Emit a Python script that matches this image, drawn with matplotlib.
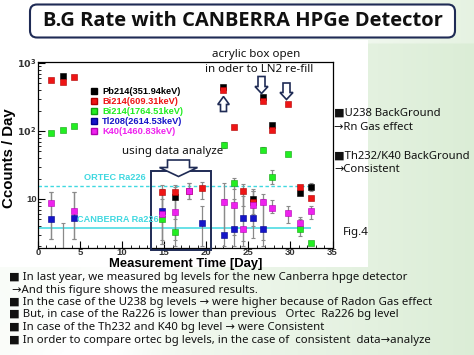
import matplotlib
matplotlib.use('Agg')
import matplotlib.pyplot as plt
import numpy as np
from matplotlib.patches import FancyBboxPatch, Rectangle, Polygon
from matplotlib.lines import Line2D
from matplotlib.ticker import FixedLocator, FuncFormatter, MultipleLocator, LogLocator, NullFormatter

# ---------------- data ----------------
pb214_day = [2.95, 22.0, 26.7, 27.84, 16.28, 25.6, 31.1, 32.45]
pb214_val = [640, 448, 313, 122, 10.8, 10.0, 12.1, 14.9]
pb214_lo = [640, 448, 313, 122, 6.0, 5.0, 12.1, 13.0]
pb214_hi = [640, 448, 313, 122, 15.0, 14.0, 12.1, 17.0]

bi609_day = [1.5, 2.95, 4.27, 22.0, 23.26, 26.7, 27.84, 29.7, 14.78, 16.28, 17.9, 19.5, 24.4, 25.6, 31.1, 32.45]
bi609_val = [568, 530, 622, 401, 114, 279, 104, 250, 12.6, 12.6, 13.3, 14.7, 13.2, 9.1, 14.9, 10.4]
bi609_lo = [568, 530, 622, 401, 114, 279, 104, 250, 5.0, 5.0, 10.0, 10.0, 8.0, 6.0, 14.9, 10.4]
bi609_hi = [568, 530, 622, 401, 114, 279, 104, 250, 16.0, 16.0, 17.0, 18.0, 16.5, 13.0, 14.9, 10.4]

bi1764_day = [1.5, 2.95, 4.27, 22.07, 26.7, 29.7, 23.26, 27.84, 14.78, 16.28, 31.1, 32.45]
bi1764_val = [92.5, 102, 118, 63, 53, 46, 17, 21.3, 5.0, 3.27, 3.66, 2.24]
bi1764_lo = [92.5, 102, 118, 57, 49, 46, 14.0, 16.5, 2.5, 2.0, 2.9, 2.24]
bi1764_hi = [92.5, 102, 118, 70, 58, 46, 20.5, 27.0, 10.0, 7.0, 5.0, 2.24]

tl208_day = [1.5, 3.0, 4.27, 14.78, 19.5, 22.07, 23.26, 24.4, 25.6, 26.7]
tl208_val = [5.1, 1.5, 5.25, 6.7, 4.48, 2.95, 3.58, 5.3, 5.3, 3.58]
tl208_lo = [2.6, 1.0, 2.6, 2.2, 2.0, 2.0, 2.0, 2.0, 2.7, 2.0]
tl208_hi = [12.5, 4.4, 12.5, 14.0, 8.0, 10.0, 10.0, 11.0, 10.0, 10.0]

k40_day = [1.5, 4.27, 14.78, 16.28, 17.9, 22.07, 23.26, 24.4, 25.6, 26.7, 27.84, 29.7, 31.1, 32.45]
k40_val = [8.8, 6.7, 5.96, 6.4, 13.0, 8.9, 8.1, 3.58, 8.1, 9.1, 7.45, 6.2, 4.4, 6.7]
k40_lo = [2.6, 2.6, 2.2, 2.5, 10.0, 3.0, 3.0, 2.4, 4.0, 2.5, 6.2, 4.5, 3.5, 5.0]
k40_hi = [12.5, 12.5, 14.0, 13.0, 17.0, 17.0, 17.0, 13.0, 13.0, 12.0, 9.5, 8.0, 5.5, 8.0]

series_labels = ["Pb214(351.94keV)", "Bi214(609.31keV)", "Bi214(1764.51keV)",
                 "Tl208(2614.53keV)", "K40(1460.83keV)"]
ortec_ra226 = 15.7
canberra_ra226 = 3.78
ref_end_day = 32.5

title = "B.G Rate with CANBERRA HPGe Detector"
bullets = [
    "\u25A0 In last year, we measured bg levels for the new Canberra hpge detector",
    " \u2192And this figure shows the measured results.",
    "\u25A0 In the case of the U238 bg levels \u2192 were higher because of Radon Gas effect",
    "\u25A0 But, in case of the Ra226 is lower than previous   Ortec  Ra226 bg level",
    "\u25A0 In case of the Th232 and K40 bg level \u2192 were Consistent",
    "\u25A0 In order to compare ortec bg levels, in the case of  consistent  data\u2192analyze",
]

# ---------------- figure ----------------
W, H = 474, 355
fig = plt.figure(figsize=(4.74, 3.55), dpi=100)

bg = fig.add_axes([0, 0, 1, 1], zorder=0)
bg.set_axis_off()
gx = np.linspace(0, 1, 240)
gy = np.linspace(0, 1, 180)
GX, GY = np.meshgrid(gx, gy)
white = np.array([1.0, 1.0, 1.0])
green = np.array([0.86, 0.93, 0.84])
t = np.clip(0.15 + 0.85 * GX ** 1.3 - 0.3 * np.exp(-((GX - 0.2 - 0.35 * (1 - GY)) ** 2) / 0.015), 0, 1)
top = GY < 0.12
t[top] = np.clip((GX[top] - 0.45) * 1.6, 0, 1) * 0.8
img = white * (1 - t[..., None]) + green * t[..., None]
bg.imshow(img, extent=[0, W, H, 0], aspect='auto', interpolation='bilinear')
bg.set_xlim(0, W)
bg.set_ylim(H, 0)
bg.add_patch(Rectangle((0, 40), 368, 227, facecolor='white', edgecolor='none'))

# chart axes
ax = fig.add_axes([38 / W, 1 - 248 / H, (332.5 - 38) / W, (248 - 62) / H], zorder=2)
ax.patch.set_alpha(0)
ax.set_yscale('log')
ax.set_xlim(0, 35)
ax.set_ylim(1.9, 1035)

colors = ['#000000', '#ee1515', '#22ee22', '#1515c8', '#ee22ee']
edges = ['#000000', '#b00000', '#10a010', '#000090', '#b000b0']
data = [(pb214_day, pb214_val, pb214_lo, pb214_hi),
        (bi609_day, bi609_val, bi609_lo, bi609_hi),
        (bi1764_day, bi1764_val, bi1764_lo, bi1764_hi),
        (tl208_day, tl208_val, tl208_lo, tl208_hi),
        (k40_day, k40_val, k40_lo, k40_hi)]
for i, (d, v, lo, hi) in enumerate(data):
    d = np.array(d); v = np.array(v); lo = np.array(lo); hi = np.array(hi)
    ax.errorbar(d, v, yerr=[v - lo, hi - v], fmt='none', ecolor='#8a8a8a',
                elinewidth=0.9, capsize=1.2, capthick=0.8, zorder=2)
for i, (d, v, lo, hi) in enumerate(data):
    ax.plot(d, v, 's', color=colors[i], markeredgecolor=edges[i],
            markeredgewidth=0.4, markersize=4.6, zorder=3 + i, clip_on=True)

cyan = '#3fd8e0'
ax.hlines(ortec_ra226, 0, ref_end_day, colors=cyan, linestyles=(0, (2.5, 1.8)), lw=1.0, zorder=1)
ax.hlines(canberra_ra226, 0, ref_end_day, colors=cyan, lw=1.1, zorder=1)

ax.tick_params(which='both', direction='in', top=False, right=False)
ax.tick_params(which='major', length=5, width=0.8)
ax.tick_params(which='minor', length=2.5, width=0.6)
ax.xaxis.set_major_locator(MultipleLocator(5))
ax.xaxis.set_minor_locator(MultipleLocator(1))
ax.yaxis.set_major_locator(FixedLocator([10, 100, 1000]))
ax.yaxis.set_minor_locator(LogLocator(base=10, subs=np.arange(2, 10)))
ax.yaxis.set_minor_formatter(NullFormatter())

def yfmt(v, pos):
    e = int(round(np.log10(v)))
    return '10' if e == 1 else r'$\mathbf{10^{%d}}$' % e
ax.yaxis.set_major_formatter(FuncFormatter(yfmt))
for lab in ax.get_xticklabels() + ax.get_yticklabels():
    lab.set_fontfamily('Liberation Sans')
    lab.set_fontweight('bold')
    lab.set_fontsize(6.8)
    lab.set_color('#333333')
ax.tick_params(axis='x', pad=0)
ax.tick_params(axis='y', pad=1)
for s in ax.spines.values():
    s.set_linewidth(0.9)

handles = [Line2D([], [], marker='s', ls='none', color=colors[i], markeredgecolor=edges[i],
                  markersize=4.6) for i in range(5)]
leg = ax.legend(handles, series_labels, loc='upper left',
                bbox_to_anchor=((91 - 38) / (332.5 - 38), (248 - 87) / (248 - 62)),
                frameon=False, borderpad=0, borderaxespad=0, handlelength=0.7,
                handletextpad=0.5, labelspacing=0.12,
                prop={'family': 'Liberation Sans', 'weight': 'bold', 'size': 6.7})
for txt, c in zip(leg.get_texts(), colors):
    txt.set_color(c)

# overlay in pixel coords
ov = fig.add_axes([0, 0, 1, 1], zorder=5)
ov.set_xlim(0, W)
ov.set_ylim(H, 0)
ov.set_axis_off()
ov.patch.set_alpha(0)

ov.text(185.5, 264, 'Measurement Time [Day]', ha='center', va='center',
        family='Liberation Sans', fontweight='bold', fontsize=9.4)
ov.text(9.5, 158, 'Ccounts / Day', ha='center', va='center', rotation=90,
        family='Liberation Sans', fontweight='bold', fontsize=10.8)

navy = '#1f2b55'
ov.add_patch(FancyBboxPatch((30, 4.5), 425, 33, boxstyle='round,pad=0,rounding_size=7',
                            fc='white', ec=navy, lw=1.5))
ov.text(243, 21.5, title, ha='center', va='center', fontsize=14.5, fontweight='bold',
        family='Open Sans', color='#111111')

sl = dict(family=['Noto Sans', 'DejaVu Sans'], color='#111111')
ov.text(256.5, 55, 'acrylic box open', ha='center', va='center', fontsize=8.3, **sl)
ov.text(259, 69, 'in oder to LN2 re-fill', ha='center', va='center', fontsize=8.3, **sl)
ov.text(173, 151.5, 'using data analyze', ha='center', va='center', fontsize=8.3, **sl)
ov.text(334, 113.5, '\u25A0U238 BackGround', ha='left', va='center', fontsize=8.1, **sl)
ov.text(334, 127.5, '\u2192Rn Gas effect', ha='left', va='center', fontsize=8.1, **sl)
ov.text(334, 156, '\u25A0Th232/K40 BackGround', ha='left', va='center', fontsize=8.1, **sl)
ov.text(334, 170, '\u2192Consistent', ha='left', va='center', fontsize=8.1, **sl)
ov.text(343, 232, 'Fig.4', ha='left', va='center', fontsize=8.3, **sl)

ov.text(84, 178, 'ORTEC Ra226', ha='left', va='center', fontsize=6.6, fontweight='bold',
        family='Liberation Sans', color=cyan)
ov.text(77, 219, 'CANBERRA Ra226', ha='left', va='center', fontsize=6.6, fontweight='bold',
        family='Liberation Sans', color=cyan)

# box around analyzed data
ov.add_patch(Rectangle((150.7, 170.7), 60, 79.5, fill=False, ec=navy, lw=1.4))

def hollow_arrow(cx, y_tail, y_base, y_tip, bw, hw):
    pts = [(cx - bw / 2, y_tail), (cx + bw / 2, y_tail), (cx + bw / 2, y_base),
           (cx + hw / 2, y_base), (cx, y_tip), (cx - hw / 2, y_base), (cx - bw / 2, y_base)]
    ov.add_patch(Polygon(pts, closed=True, fc='white', ec=navy, lw=1.2))

hollow_arrow(178.5, 160, 167.5, 176.5, 22, 38)
hollow_arrow(223.5, 111.5, 104.5, 96.5, 6, 11.5)
hollow_arrow(261.5, 76.5, 86.5, 93.5, 7, 13)
hollow_arrow(286.5, 83, 92.5, 99.5, 7, 13)

for i, line in enumerate(bullets):
    ov.text(9, 277.5 + i * 12.5, line, ha='left', va='center', fontsize=8.2,
            family=['Noto Sans', 'DejaVu Sans'], color='#111111')

fig.savefig('out.png', dpi=100)
